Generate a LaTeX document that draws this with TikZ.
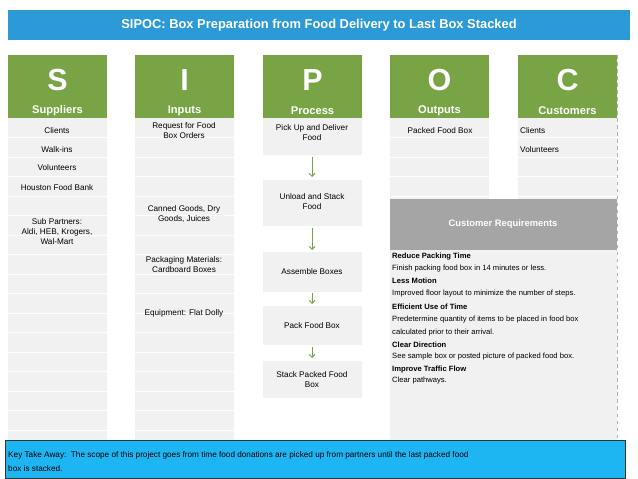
\documentclass[tikz,border=0pt]{standalone}
\usepackage{fontspec}
\setmainfont{Liberation Sans}
\usetikzlibrary{arrows.meta,positioning,calc}
\definecolor{titleblue}{HTML}{2C9AD6}
\definecolor{hdgreen}{HTML}{78A446}
\definecolor{bodygray}{HTML}{F1F1F1}
\definecolor{reqgray}{HTML}{A5A5A5}
\definecolor{keycyan}{HTML}{1DB5F2}
\begin{document}
\begin{tikzpicture}
[x=0.03cm,y=-0.03cm,
txt/.style={font=\fontsize{7}{8.5}\selectfont,align=center,inner sep=0pt},
ltxt/.style={font=\fontsize{7}{8.5}\selectfont,anchor=west,inner sep=0pt},
stepbox/.style={fill=bodygray,draw=none},
arr/.style={-{Straight Barb[length=2.5pt,width=5pt]},hdgreen,thick}]
%%%%%%%%%%
\useasboundingbox (0,0) rectangle (638,479);
\fill[titleblue] (8,10) rectangle (630,40);
\node[white,font=\fontsize{11}{13}\selectfont\bfseries] (title) at (319,25)
  {SIPOC: Box Preparation from Food Delivery to Last Box Stacked};

\newcommand{\sipoccol}[4]{
\fill[hdgreen] (#1,55) rectangle ($(#1,118)+(99,0)$);
\fill[bodygray] (#1,118) rectangle ($(#1,440)+(99,0)$);
\foreach \r in {1,...,16}
  \draw[white,thin] (#1,118+19.5*\r) -- ++(99,0);
\node[white,font=\fontsize{26}{28}\selectfont\bfseries] (#4) at ($(#1,80)+(49.5,0)$) {#2};
\node[white,font=\fontsize{9.5}{11}\selectfont\bfseries] at ($(#1,111)+(49.5,0)$) {#3};
}
%%%%%%%%%%

%% columns
\sipoccol{8}{S}{Suppliers}{sS}
\sipoccol{135}{I}{Inputs}{sI}
\sipoccol{263}{P}{Process}{sP}
\sipoccol{390}{O}{Outputs}{sO}
\sipoccol{518}{C}{Customers}{sC}
\fill[white] (263,118) rectangle (362,440);
\draw[gray!60,dashed] (617,55) -- (617,440);

%% suppliers
\node[txt] (s1) at (57,131) {Clients};
\node[txt] (s2) at (57,150) {Walk-ins};
\node[txt] (s3) at (57,168) {Volunteers};
\node[txt] (s4) at (57,188) {Houston Food Bank};
\node[txt] (s5) at (57,232) {Sub Partners:\\Aldi, HEB, Krogers,\\Wal-Mart};

%% inputs
\node[txt] (i1) at (184,131) {Request for Food\\Box Orders};
\node[txt] (i2) at (184,214) {Canned Goods, Dry\\Goods, Juices};
\node[txt] (i3) at (184,265) {Packaging Materials:\\Cardboard Boxes};
\node[txt] (i4) at (184,313) {Equipment: Flat Dolly};

%% process
\fill[stepbox] (263,118) rectangle (362,155);
\fill[stepbox] (263,180) rectangle (362,226);
\fill[stepbox] (263,252) rectangle (362,292);
\fill[stepbox] (263,306) rectangle (362,345);
\fill[stepbox] (263,361) rectangle (362,398);
\node[txt] (p1) at (312,133) {Pick Up and Deliver\\Food};
\node[txt] (p2) at (312,202) {Unload and Stack\\Food};
\node[txt] (p3) at (312,272) {Assemble Boxes};
\node[txt] (p4) at (312,326) {Pack Food Box};
\node[txt] (p5) at (312,380) {Stack Packed Food\\Box};
\coordinate (a1) at (312,157); \coordinate (b1) at (312,177);
\coordinate (a2) at (312,228); \coordinate (b2) at (312,250);
\coordinate (a3) at (312,293); \coordinate (b3) at (312,304);
\coordinate (a4) at (312,347); \coordinate (b4) at (312,358);
\foreach \k in {1,...,4}
  \draw[arr] (a\k) -- (b\k);

%% outputs, customers
\node[txt] (o1) at (440,131) {Packed Food Box};
\node[ltxt] (c1) at (520,131) {Clients};
\node[ltxt] (c2) at (520,150) {Volunteers};

%% customer requirements
\fill[bodygray] (390,199) rectangle (617,440);
\fill[reqgray] (390,199) rectangle (617,250);
\node[white,font=\fontsize{8}{10}\selectfont\bfseries] (req) at (503,224) {Customer Requirements};
\node[ltxt,font=\fontsize{6.5}{8}\selectfont\bfseries] at (392,257) {Reduce Packing Time};
\node[ltxt,font=\fontsize{6.5}{8}\selectfont] at (392,269) {Finish packing food box in 14 minutes or less.};
\node[ltxt,font=\fontsize{6.5}{8}\selectfont\bfseries] at (392,281) {Less Motion};
\node[ltxt,font=\fontsize{6.5}{8}\selectfont] at (392,294) {Improved floor layout to minimize the number of steps.};
\node[ltxt,font=\fontsize{6.5}{8}\selectfont\bfseries] at (392,307) {Efficient Use of Time};
\node[ltxt,font=\fontsize{6.5}{8}\selectfont] at (392,320) {Predetermine quantity of items to be placed in food box};
\node[ltxt,font=\fontsize{6.5}{8}\selectfont] at (392,333) {calculated prior to their arrival.};
\node[ltxt,font=\fontsize{6.5}{8}\selectfont\bfseries] at (392,345) {Clear Direction};
\node[ltxt,font=\fontsize{6.5}{8}\selectfont] at (392,357) {See sample box or posted picture of packed food box.};
\node[ltxt,font=\fontsize{6.5}{8}\selectfont\bfseries] at (392,370) {Improve Traffic Flow};
\node[ltxt,font=\fontsize{6.5}{8}\selectfont] at (392,381) {Clear pathways.};

%% key take away
\draw[fill=keycyan,draw=black!80] (5,440) rectangle (625,478);
\node[ltxt] (key1) at (8,455) {Key Take Away:\ \ The scope of this project goes from time food donations are picked up from partners until the last packed food};
\node[ltxt] (key2) at (8,469) {box is stacked.};
\end{tikzpicture}
\end{document}
